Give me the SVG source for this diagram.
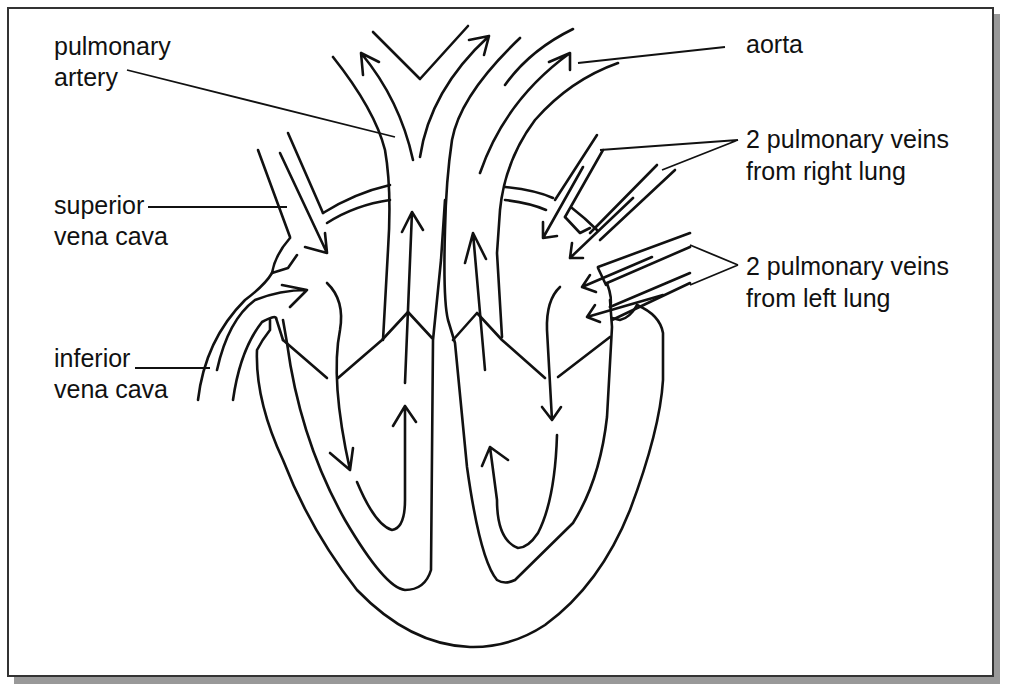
<svg xmlns="http://www.w3.org/2000/svg" width="1025" height="697" viewBox="0 0 1025 697">
<style>
.l{fill:none;stroke:#111;stroke-width:2.6;stroke-linecap:round;stroke-linejoin:round}
.t{font-family:"Liberation Sans",Arial,sans-serif;font-size:25px;fill:#111}
.k{stroke:#111;stroke-width:1.8;fill:none}
</style>
<rect x="0" y="0" width="1025" height="697" fill="#fff"/>
<rect x="14" y="14" width="986" height="670" fill="#999"/>
<rect x="8" y="8" width="985" height="668" fill="#fff" stroke="#333" stroke-width="2"/>
<g id="heart" class="l">
<!-- pulmonary artery -->
<path d="M333,57 Q375,110 385,150 Q392,190 388,250 L383,340"/>
<path d="M373,32 L420,79 L468,26"/>
<path d="M413,160 Q400,100 361,53 M363,75 L361,53 L379,62"/>
<path d="M420,157 Q430,90 489,36 M484,55 L489,36 L469,40"/>
<path d="M520,38 Q460,95 452,140 Q446,180 445,230 Q443,300 448,320 L455,343 L467,467 Q480,560 497,580 Q505,585 515,580 L573,523 Q600,480 607,417 L612,327 L610,300"/>
<path d="M445,200 L441,260 L433,340 L431,570 Q425,590 405,590 Q385,588 345,520 Q300,440 287,343 L283,320"/>
<path d="M338,378 L382,340 L408,312 L432,338"/>
<path d="M283,340 L327,378"/>
<path d="M412,212 L405,383 M402,232 L412,212 L423,230"/>
<!-- aorta -->
<path d="M573,29 Q530,50 505,85"/>
<path d="M480,173 Q505,100 570,53 M549,62 L570,53 L570,70"/>
<path d="M618,63 Q570,80 535,120 Q505,160 500,210 L497,253 L502,337"/>
<path d="M453,340 L477,313 L502,340 L545,378"/>
<path d="M473,233 L485,370 M465,263 L473,233 L486,259"/>
<path d="M558,377 L610,337"/>
<!-- ventricle arrows -->
<path d="M327,283 Q345,300 340,330 Q330,380 350,470 M330,453 L350,470 L353,448"/>
<path d="M357,482 Q375,525 392,530 Q405,528 405,500 L405,406 M393,426 L405,406 L416,422"/>
<path d="M557,435 Q555,500 538,533 Q528,548 518,548 Q497,540 497,500 L490,447 M482,466 L490,447 L508,460"/>
<path d="M560,287 Q546,300 547,330 L552,420 M542,407 L552,420 L561,407"/>
<!-- outer heart -->
<path d="M270,320 L270,330 Q262,340 257,350 Q255,400 283,460 Q310,530 357,590 Q410,645 470,647 Q510,648 545,625 Q600,585 630,510 Q660,430 663,380 L663,333 Q660,315 637,305"/>
<!-- superior vena cava -->
<path d="M258,150 L290,237"/>
<path d="M288,133 L323,213"/>
<path d="M280,153 L327,253 M305,247 L327,253 L325,233"/>
<path d="M323,213 Q355,193 390,185 M327,223 Q355,205 390,200"/>
<path d="M290,238 Q275,255 272,273 M297,255 L288,268 L272,273"/>
<!-- inferior vena cava -->
<path d="M198,400 Q205,340 245,300 Q265,285 272,273"/>
<path d="M233,400 Q240,350 262,322 Q275,315 276,318"/>
<path d="M217,370 Q228,320 255,300 Q280,290 307,290 M282,285 L307,290 L290,307"/>
<path d="M276,318 L283,340"/>
<!-- right pericardium -->
<path d="M505,187 Q535,190 553,198 M505,200 Q530,203 546,210"/>
<path d="M565,217 L580,233 L590,228 M572,208 Q585,218 597,230"/>
<path d="M598,268 L606,285 M607,283 Q613,300 610,307 M612,318 L620,320 Q630,318 637,305"/>
<!-- pulmonary veins right lung -->
<path d="M597,135 L555,200 M603,150 L565,217"/>
<path d="M583,167 L543,238 M543,222 L543,238 L557,236"/>
<path d="M657,165 L590,233 M675,170 L600,240"/>
<path d="M633,198 L570,258 M572,243 L570,258 L583,258"/>
<!-- pulmonary veins left lung -->
<path d="M690,233 L598,267 M690,247 L607,283"/>
<path d="M652,257 L582,287 M590,275 L582,287 L596,292"/>
<path d="M690,273 L610,307 M690,283 L612,320"/>
<path d="M663,295 L587,317 M595,305 L587,317 L600,322"/>
</g>
<g id="labels">
<text class="t" x="54" y="55">pulmonary</text>
<text class="t" x="54" y="86">artery</text>
<text class="t" x="54" y="214">superior</text>
<text class="t" x="54" y="245">vena cava</text>
<text class="t" x="54" y="367">inferior</text>
<text class="t" x="54" y="398">vena cava</text>
<text class="t" x="746" y="53">aorta</text>
<text class="t" x="746" y="148">2 pulmonary veins</text>
<text class="t" x="746" y="180">from right lung</text>
<text class="t" x="746" y="275">2 pulmonary veins</text>
<text class="t" x="746" y="307">from left lung</text>
</g>
<g id="connectors" class="k">
<path d="M127,70 L395,137"/>
<path d="M148,207 L287,207"/>
<path d="M135,368 L210,368"/>
<path d="M725,47 L578,63"/>
<path d="M738,140 L600,150 M738,140 L662,170"/>
<path d="M738,265 L690,245 M738,265 L690,285"/>
</g>
</svg>
